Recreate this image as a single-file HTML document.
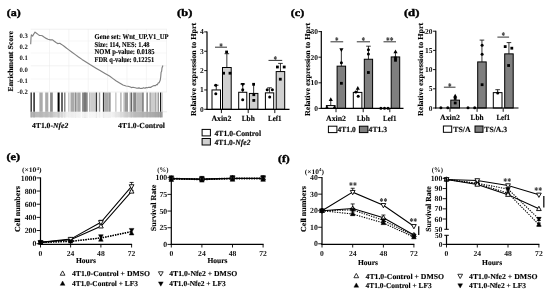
<!DOCTYPE html>
<html><head><meta charset="utf-8"><title>Figure</title>
<style>html,body{margin:0;padding:0;background:#fff;overflow:hidden}svg{display:block}text{font-family:"Liberation Serif",serif;font-weight:bold;stroke:#000;stroke-width:0.12px;text-rendering:geometricPrecision}</style></head><body>
<svg width="550" height="296" viewBox="0 0 550 296">
<rect width="550" height="296" fill="#fff"/>
<text x="6.80" y="15.60" font-size="10" text-anchor="start" fill="#000" textLength="13.90" lengthAdjust="spacingAndGlyphs" style="stroke-width:0.4px">(a)</text>
<text x="177.10" y="15.60" font-size="10" text-anchor="start" fill="#000" textLength="15.20" lengthAdjust="spacingAndGlyphs" style="stroke-width:0.4px">(b)</text>
<text x="290.80" y="15.60" font-size="10" text-anchor="start" fill="#000" textLength="13.40" lengthAdjust="spacingAndGlyphs" style="stroke-width:0.4px">(c)</text>
<text x="403.90" y="15.60" font-size="10" text-anchor="start" fill="#000" textLength="15.50" lengthAdjust="spacingAndGlyphs" style="stroke-width:0.4px">(d)</text>
<text x="6.50" y="159.50" font-size="10" text-anchor="start" fill="#000" textLength="13.70" lengthAdjust="spacingAndGlyphs" style="stroke-width:0.4px">(e)</text>
<text x="278.00" y="161.50" font-size="10" text-anchor="start" fill="#000" textLength="11.80" lengthAdjust="spacingAndGlyphs" style="stroke-width:0.4px">(f)</text>
<g id="a">
<line x1="49.50" y1="29.20" x2="49.50" y2="92.00" stroke="#ececec" stroke-width="0.6" />
<line x1="68.90" y1="29.20" x2="68.90" y2="92.00" stroke="#ececec" stroke-width="0.6" />
<line x1="88.20" y1="29.20" x2="88.20" y2="92.00" stroke="#ececec" stroke-width="0.6" />
<line x1="107.60" y1="29.20" x2="107.60" y2="92.00" stroke="#ececec" stroke-width="0.6" />
<line x1="127.00" y1="29.20" x2="127.00" y2="92.00" stroke="#ececec" stroke-width="0.6" />
<line x1="146.40" y1="29.20" x2="146.40" y2="92.00" stroke="#ececec" stroke-width="0.6" />
<line x1="166.50" y1="29.20" x2="166.50" y2="92.00" stroke="#ececec" stroke-width="0.6" />
<line x1="30.80" y1="29.20" x2="167.00" y2="29.20" stroke="#e8e8e8" stroke-width="0.6" />
<line x1="30.80" y1="41.00" x2="167.00" y2="41.00" stroke="#f2f2f2" stroke-width="0.6" />
<line x1="30.80" y1="53.00" x2="167.00" y2="53.00" stroke="#f2f2f2" stroke-width="0.6" />
<line x1="30.80" y1="65.80" x2="167.00" y2="65.80" stroke="#e8e8e8" stroke-width="0.6" />
<line x1="30.80" y1="79.00" x2="167.00" y2="79.00" stroke="#f2f2f2" stroke-width="0.6" />
<line x1="30.80" y1="92.00" x2="167.00" y2="92.00" stroke="#e8e8e8" stroke-width="0.6" />
<line x1="162.70" y1="111.80" x2="167.00" y2="111.80" stroke="#ddd" stroke-width="0.6" />
<polyline fill="none" stroke="#808080" stroke-width="1.15" stroke-linejoin="round" points="30.7,44.2 31.0,38 31.4,34.8 32.0,35.4 32.7,36.1 33.5,34.5 35,32.1 36.5,33.2 38,34.4 39.5,35.5 41,35.5 42.2,35.7 44,37 46.2,38.4 48,39.2 50.3,39.9 52.6,39.9 54,41 56,42.5 57.7,43.6 59.8,43.3 61.5,44.4 63.8,46 66,47.7 68.5,49.6 72,52.2 75.3,54.6 78.5,57 82,59.4 86,62 90,64.6 96,68.2 100,70.5 105,73.4 109.5,76 113,78.6 116.3,81 120,83.2 123,85 126,86 128,86.2 129.8,86.8 131.5,87.6 133,87.3 135.2,87.8 137,88.3 139,87.9 140.5,88.5 142,88.4 143.5,87.7 145,88.3 146.2,87.5 147.4,87.8 149,87.2 150.5,87.4 152,86.5 154.1,85.5 155.5,85.6 156.5,84.6 157.3,84.8 158.2,83 159.2,82.6 160.2,80.3 160.7,77 161.1,72.2 161.6,71.5 162,68 162.9,65.5"/>
<text x="27.80" y="37.70" font-size="6.7" text-anchor="end" fill="#222" style="stroke:none">0.3</text>
<text x="27.80" y="48.90" font-size="6.7" text-anchor="end" fill="#222" style="stroke:none">0.2</text>
<text x="27.80" y="60.30" font-size="6.7" text-anchor="end" fill="#222" style="stroke:none">0.1</text>
<text x="27.80" y="71.50" font-size="6.7" text-anchor="end" fill="#222" style="stroke:none">0.0</text>
<text x="27.80" y="82.90" font-size="6.7" text-anchor="end" fill="#222" style="stroke:none">-0.1</text>
<text x="27.80" y="94.30" font-size="6.7" text-anchor="end" fill="#222" style="stroke:none">-0.2</text>
<text x="12.60" y="61.30" font-size="7.6" text-anchor="middle" fill="#000" textLength="60.50" lengthAdjust="spacingAndGlyphs" transform="rotate(-90 12.60 61.30)" >Enrichment Score</text>
<text x="94.60" y="39.00" font-size="7.4" text-anchor="start" fill="#000" textLength="74.00" lengthAdjust="spacingAndGlyphs" >Gene set: Wnt_UP.V1_UP</text>
<text x="94.60" y="46.50" font-size="7.4" text-anchor="start" fill="#000" textLength="55.00" lengthAdjust="spacingAndGlyphs" >Size: 114, NES: 1.48</text>
<text x="94.60" y="54.00" font-size="7.4" text-anchor="start" fill="#000" textLength="60.00" lengthAdjust="spacingAndGlyphs" >NOM p-value: 0.0185</text>
<text x="94.60" y="61.50" font-size="7.4" text-anchor="start" fill="#000" textLength="59.50" lengthAdjust="spacingAndGlyphs" >FDR q-value: 0.12251</text>
<rect x="30.50" y="92.50" width="1.40" height="19.30" fill="#333"/>
<rect x="30.50" y="111.8" width="1.40" height="5.6" fill="#333" opacity="0.35"/>
<rect x="33.30" y="92.50" width="1.60" height="19.30" fill="#333"/>
<rect x="33.30" y="111.8" width="1.60" height="5.6" fill="#333" opacity="0.35"/>
<rect x="39.40" y="92.50" width="3.30" height="19.30" fill="#aaa"/>
<rect x="39.40" y="111.8" width="3.30" height="5.6" fill="#aaa" opacity="0.35"/>
<rect x="45.20" y="92.50" width="3.10" height="19.30" fill="#aaa"/>
<rect x="45.20" y="111.8" width="3.10" height="5.6" fill="#aaa" opacity="0.35"/>
<rect x="50.10" y="92.50" width="2.70" height="19.30" fill="#888"/>
<rect x="50.10" y="111.8" width="2.70" height="5.6" fill="#888" opacity="0.35"/>
<rect x="57.60" y="92.50" width="2.00" height="19.30" fill="#000"/>
<rect x="57.60" y="111.8" width="2.00" height="5.6" fill="#000" opacity="0.35"/>
<rect x="61.00" y="92.50" width="2.00" height="19.30" fill="#666"/>
<rect x="61.00" y="111.8" width="2.00" height="5.6" fill="#666" opacity="0.35"/>
<rect x="64.00" y="92.50" width="1.50" height="19.30" fill="#888"/>
<rect x="64.00" y="111.8" width="1.50" height="5.6" fill="#888" opacity="0.35"/>
<rect x="68.00" y="92.50" width="1.60" height="19.30" fill="#ccc"/>
<rect x="68.00" y="111.8" width="1.60" height="5.6" fill="#ccc" opacity="0.35"/>
<rect x="69.60" y="92.50" width="1.00" height="19.30" fill="#e4e4e4"/>
<rect x="69.60" y="111.8" width="1.00" height="5.6" fill="#e4e4e4" opacity="0.35"/>
<rect x="70.60" y="92.50" width="3.50" height="19.30" fill="#aaa"/>
<rect x="70.60" y="111.8" width="3.50" height="5.6" fill="#aaa" opacity="0.35"/>
<rect x="74.10" y="92.50" width="0.70" height="19.30" fill="#ddd"/>
<rect x="74.10" y="111.8" width="0.70" height="5.6" fill="#ddd" opacity="0.35"/>
<rect x="74.80" y="92.50" width="1.00" height="19.30" fill="#666"/>
<rect x="74.80" y="111.8" width="1.00" height="5.6" fill="#666" opacity="0.35"/>
<rect x="75.80" y="92.50" width="2.20" height="19.30" fill="#bbb"/>
<rect x="75.80" y="111.8" width="2.20" height="5.6" fill="#bbb" opacity="0.35"/>
<rect x="78.00" y="92.50" width="2.60" height="19.30" fill="#aaa"/>
<rect x="78.00" y="111.8" width="2.60" height="5.6" fill="#aaa" opacity="0.35"/>
<rect x="82.10" y="92.50" width="5.60" height="19.30" fill="#888"/>
<rect x="82.10" y="111.8" width="5.60" height="5.6" fill="#888" opacity="0.35"/>
<rect x="84.50" y="92.50" width="1.00" height="19.30" fill="#666"/>
<rect x="84.50" y="111.8" width="1.00" height="5.6" fill="#666" opacity="0.35"/>
<rect x="89.20" y="92.50" width="1.00" height="19.30" fill="#aaa"/>
<rect x="89.20" y="111.8" width="1.00" height="5.6" fill="#aaa" opacity="0.35"/>
<rect x="90.20" y="92.50" width="5.60" height="19.30" fill="#ccc"/>
<rect x="90.20" y="111.8" width="5.60" height="5.6" fill="#ccc" opacity="0.35"/>
<rect x="95.80" y="92.50" width="1.30" height="19.30" fill="#333"/>
<rect x="95.80" y="111.8" width="1.30" height="5.6" fill="#333" opacity="0.35"/>
<rect x="98.80" y="92.50" width="1.40" height="19.30" fill="#999"/>
<rect x="98.80" y="111.8" width="1.40" height="5.6" fill="#999" opacity="0.35"/>
<rect x="102.90" y="92.50" width="1.30" height="19.30" fill="#333"/>
<rect x="102.90" y="111.8" width="1.30" height="5.6" fill="#333" opacity="0.35"/>
<rect x="104.20" y="92.50" width="4.30" height="19.30" fill="#aaa"/>
<rect x="104.20" y="111.8" width="4.30" height="5.6" fill="#aaa" opacity="0.35"/>
<rect x="108.50" y="92.50" width="2.20" height="19.30" fill="#999"/>
<rect x="108.50" y="111.8" width="2.20" height="5.6" fill="#999" opacity="0.35"/>
<rect x="115.00" y="92.50" width="1.60" height="19.30" fill="#ccc"/>
<rect x="115.00" y="111.8" width="1.60" height="5.6" fill="#ccc" opacity="0.35"/>
<rect x="120.10" y="92.50" width="1.60" height="19.30" fill="#bbb"/>
<rect x="120.10" y="111.8" width="1.60" height="5.6" fill="#bbb" opacity="0.35"/>
<rect x="123.20" y="92.50" width="1.30" height="19.30" fill="#ccc"/>
<rect x="123.20" y="111.8" width="1.30" height="5.6" fill="#ccc" opacity="0.35"/>
<rect x="124.50" y="92.50" width="3.50" height="19.30" fill="#999"/>
<rect x="124.50" y="111.8" width="3.50" height="5.6" fill="#999" opacity="0.35"/>
<rect x="129.60" y="92.50" width="1.40" height="19.30" fill="#aaa"/>
<rect x="129.60" y="111.8" width="1.40" height="5.6" fill="#aaa" opacity="0.35"/>
<rect x="131.00" y="92.50" width="1.00" height="19.30" fill="#666"/>
<rect x="131.00" y="111.8" width="1.00" height="5.6" fill="#666" opacity="0.35"/>
<rect x="132.00" y="92.50" width="1.20" height="19.30" fill="#ddd"/>
<rect x="132.00" y="111.8" width="1.20" height="5.6" fill="#ddd" opacity="0.35"/>
<rect x="133.20" y="92.50" width="3.00" height="19.30" fill="#888"/>
<rect x="133.20" y="111.8" width="3.00" height="5.6" fill="#888" opacity="0.35"/>
<rect x="136.20" y="92.50" width="5.60" height="19.30" fill="#bbb"/>
<rect x="136.20" y="111.8" width="5.60" height="5.6" fill="#bbb" opacity="0.35"/>
<rect x="141.80" y="92.50" width="2.00" height="19.30" fill="#888"/>
<rect x="141.80" y="111.8" width="2.00" height="5.6" fill="#888" opacity="0.35"/>
<rect x="146.40" y="92.50" width="1.50" height="19.30" fill="#888"/>
<rect x="146.40" y="111.8" width="1.50" height="5.6" fill="#888" opacity="0.35"/>
<rect x="149.40" y="92.50" width="1.60" height="19.30" fill="#aaa"/>
<rect x="149.40" y="111.8" width="1.60" height="5.6" fill="#aaa" opacity="0.35"/>
<rect x="151.00" y="92.50" width="4.00" height="19.30" fill="#ccc"/>
<rect x="151.00" y="111.8" width="4.00" height="5.6" fill="#ccc" opacity="0.35"/>
<rect x="155.00" y="92.50" width="1.50" height="19.30" fill="#aaa"/>
<rect x="155.00" y="111.8" width="1.50" height="5.6" fill="#aaa" opacity="0.35"/>
<rect x="157.50" y="92.50" width="1.50" height="19.30" fill="#999"/>
<rect x="157.50" y="111.8" width="1.50" height="5.6" fill="#999" opacity="0.35"/>
<rect x="160.00" y="92.50" width="1.20" height="19.30" fill="#1a1a1a"/>
<rect x="160.00" y="111.8" width="1.20" height="5.6" fill="#1a1a1a" opacity="0.35"/>
<rect x="161.20" y="92.50" width="1.60" height="19.30" fill="#ccc"/>
<rect x="161.20" y="111.8" width="1.60" height="5.6" fill="#ccc" opacity="0.35"/>
<defs><linearGradient id="gb" x1="0" x2="1" y1="0" y2="0"><stop offset="0" stop-color="#a4a4a4"/><stop offset="0.15" stop-color="#b4b4b4"/><stop offset="0.28" stop-color="#ececec"/><stop offset="0.4" stop-color="#fafafa"/><stop offset="0.6" stop-color="#f4f4f4"/><stop offset="0.68" stop-color="#d8d8d8"/><stop offset="0.8" stop-color="#b0b0b0"/><stop offset="1" stop-color="#8c8c8c"/></linearGradient></defs>
<rect x="30.6" y="111.8" width="132" height="5.6" fill="url(#gb)" opacity="0.8"/>
<text x="32" y="128.0" font-size="7.7" textLength="36.2" lengthAdjust="spacingAndGlyphs">4T1.0-<tspan font-style="italic">Nfe2</tspan></text>
<text x="118.00" y="128.00" font-size="7.7" text-anchor="start" fill="#000" textLength="47.00" lengthAdjust="spacingAndGlyphs" >4T1.0-Control</text>
</g>
<g id="b">
<text x="196.00" y="69.40" font-size="7.6" text-anchor="middle" fill="#000" textLength="93.00" lengthAdjust="spacingAndGlyphs" transform="rotate(-90 196.00 69.40)" >Relative expression to Hprt</text>
<line x1="216.25" y1="89.95" x2="216.25" y2="85.20" stroke="#000" stroke-width="0.8" />
<line x1="213.95" y1="85.20" x2="218.55" y2="85.20" stroke="#000" stroke-width="0.8" />
<rect x="212.00" y="89.95" width="8.50" height="19.35" fill="#fff" stroke="#000" stroke-width="1.0"/>
<circle cx="215.80" cy="85.20" r="1.5" fill="#000"/>
<circle cx="215.80" cy="93.70" r="1.5" fill="#000"/>
<line x1="226.85" y1="67.50" x2="226.85" y2="53.70" stroke="#000" stroke-width="0.8" />
<line x1="224.55" y1="53.70" x2="229.15" y2="53.70" stroke="#000" stroke-width="0.8" />
<rect x="222.50" y="67.50" width="8.70" height="41.80" fill="#d0d0d0" stroke="#000" stroke-width="1.0"/>
<rect x="225.20" y="50.60" width="2.8" height="2.8" fill="#000"/>
<rect x="222.20" y="71.80" width="2.8" height="2.8" fill="#000"/>
<rect x="228.60" y="71.80" width="2.8" height="2.8" fill="#000"/>
<line x1="242.75" y1="92.27" x2="242.75" y2="84.20" stroke="#000" stroke-width="0.8" />
<line x1="240.45" y1="84.20" x2="245.05" y2="84.20" stroke="#000" stroke-width="0.8" />
<rect x="238.70" y="92.27" width="8.10" height="17.03" fill="#fff" stroke="#000" stroke-width="1.0"/>
<polygon points="242.70,86.86 240.61,83.09 244.79,83.09" fill="#000"/>
<circle cx="242.70" cy="89.70" r="1.5" fill="#000"/>
<circle cx="242.70" cy="99.80" r="1.5" fill="#000"/>
<line x1="253.65" y1="93.43" x2="253.65" y2="84.20" stroke="#000" stroke-width="0.8" />
<rect x="249.40" y="93.43" width="8.50" height="15.87" fill="#d0d0d0" stroke="#000" stroke-width="1.0"/>
<rect x="252.20" y="82.90" width="2.8" height="2.8" fill="#000"/>
<rect x="252.40" y="93.30" width="2.8" height="2.8" fill="#000"/>
<rect x="252.40" y="99.00" width="2.8" height="2.8" fill="#000"/>
<line x1="269.55" y1="92.85" x2="269.55" y2="87.80" stroke="#000" stroke-width="0.8" />
<line x1="267.25" y1="87.80" x2="271.85" y2="87.80" stroke="#000" stroke-width="0.8" />
<rect x="265.40" y="92.85" width="8.30" height="16.45" fill="#fff" stroke="#000" stroke-width="1.0"/>
<circle cx="267.20" cy="89.70" r="1.5" fill="#000"/>
<circle cx="272.40" cy="89.70" r="1.5" fill="#000"/>
<circle cx="269.70" cy="97.00" r="1.5" fill="#000"/>
<line x1="280.45" y1="71.57" x2="280.45" y2="63.40" stroke="#000" stroke-width="0.8" />
<line x1="278.15" y1="63.40" x2="282.75" y2="63.40" stroke="#000" stroke-width="0.8" />
<rect x="276.20" y="71.57" width="8.50" height="37.73" fill="#d0d0d0" stroke="#000" stroke-width="1.0"/>
<rect x="276.00" y="65.60" width="2.8" height="2.8" fill="#000"/>
<rect x="282.80" y="65.60" width="2.8" height="2.8" fill="#000"/>
<rect x="278.90" y="77.80" width="2.8" height="2.8" fill="#000"/>
<line x1="207.00" y1="31.40" x2="207.00" y2="109.90" stroke="#000" stroke-width="1.2" />
<line x1="206.40" y1="109.30" x2="289.50" y2="109.30" stroke="#000" stroke-width="1.2" />
<line x1="204.20" y1="109.30" x2="207.00" y2="109.30" stroke="#000" stroke-width="0.9" />
<text x="203.70" y="111.80" font-size="7.5" text-anchor="end" fill="#111" style="stroke:none">0</text>
<line x1="204.20" y1="89.95" x2="207.00" y2="89.95" stroke="#000" stroke-width="0.9" />
<text x="203.70" y="92.45" font-size="7.5" text-anchor="end" fill="#111" style="stroke:none">1</text>
<line x1="204.20" y1="70.60" x2="207.00" y2="70.60" stroke="#000" stroke-width="0.9" />
<text x="203.70" y="73.10" font-size="7.5" text-anchor="end" fill="#111" style="stroke:none">2</text>
<line x1="204.20" y1="51.25" x2="207.00" y2="51.25" stroke="#000" stroke-width="0.9" />
<text x="203.70" y="53.75" font-size="7.5" text-anchor="end" fill="#111" style="stroke:none">3</text>
<line x1="204.20" y1="31.90" x2="207.00" y2="31.90" stroke="#000" stroke-width="0.9" />
<text x="203.70" y="34.40" font-size="7.5" text-anchor="end" fill="#111" style="stroke:none">4</text>
<line x1="221.40" y1="109.30" x2="221.40" y2="113.10" stroke="#000" stroke-width="0.9" />
<text x="221.40" y="121.20" font-size="7.8" text-anchor="middle" fill="#000" textLength="20.00" lengthAdjust="spacingAndGlyphs" >Axin2</text>
<line x1="248.20" y1="109.30" x2="248.20" y2="113.10" stroke="#000" stroke-width="0.9" />
<text x="248.20" y="121.20" font-size="7.8" text-anchor="middle" fill="#000" textLength="13.10" lengthAdjust="spacingAndGlyphs" >Lbh</text>
<line x1="274.80" y1="109.30" x2="274.80" y2="113.10" stroke="#000" stroke-width="0.9" />
<text x="274.80" y="121.20" font-size="7.8" text-anchor="middle" fill="#000" textLength="13.60" lengthAdjust="spacingAndGlyphs" >Lef1</text>
<line x1="215.00" y1="47.20" x2="227.00" y2="47.20" stroke="#000" stroke-width="0.8" />
<text x="221.00" y="49.50" font-size="10.5" text-anchor="middle" fill="#222" textLength="3.60" lengthAdjust="spacingAndGlyphs" style="stroke:none">*</text>
<line x1="268.50" y1="60.40" x2="282.20" y2="60.40" stroke="#000" stroke-width="0.8" />
<text x="275.35" y="62.70" font-size="10.5" text-anchor="middle" fill="#222" textLength="3.60" lengthAdjust="spacingAndGlyphs" style="stroke:none">*</text>
<rect x="202.10" y="129.40" width="8.30" height="6.50" fill="#fff" stroke="#000" stroke-width="1.0"/>
<rect x="202.10" y="138.50" width="8.30" height="6.50" fill="#d0d0d0" stroke="#000" stroke-width="1.0"/>
</g>
<text x="214.50" y="135.60" font-size="7.8" text-anchor="start" fill="#000" textLength="46.60" lengthAdjust="spacingAndGlyphs" >4T1.0-Control</text>
<text x="214.5" y="145.1" font-size="7.8" textLength="36" lengthAdjust="spacingAndGlyphs">4T1.0-<tspan font-style="italic">Nfe2</tspan></text>
<g id="c">
<text x="309.60" y="69.40" font-size="7.6" text-anchor="middle" fill="#000" textLength="93.00" lengthAdjust="spacingAndGlyphs" transform="rotate(-90 309.60 69.40)" >Relative expression to Hprt</text>
<line x1="330.75" y1="105.58" x2="330.75" y2="99.60" stroke="#000" stroke-width="0.8" />
<rect x="326.40" y="105.58" width="8.70" height="2.82" fill="#fff" stroke="#000" stroke-width="1.0"/>
<polygon points="330.80,97.34 328.71,101.11 332.89,101.11" fill="#000"/>
<polygon points="327.00,105.34 324.91,109.11 329.09,109.11" fill="#000"/>
<polygon points="334.40,105.34 332.31,109.11 336.49,109.11" fill="#000"/>
<line x1="341.35" y1="66.16" x2="341.35" y2="50.00" stroke="#000" stroke-width="0.8" />
<rect x="337.10" y="66.16" width="8.50" height="42.24" fill="#7f7f7f" stroke="#000" stroke-width="1.0"/>
<polygon points="341.40,52.06 339.31,48.29 343.49,48.29" fill="#000"/>
<circle cx="341.40" cy="62.80" r="1.5" fill="#000"/>
<rect x="340.00" y="81.90" width="2.8" height="2.8" fill="#000"/>
<line x1="357.60" y1="92.40" x2="357.60" y2="88.30" stroke="#000" stroke-width="0.8" />
<rect x="353.30" y="92.40" width="8.60" height="16.00" fill="#fff" stroke="#000" stroke-width="1.0"/>
<polygon points="357.80,86.04 355.71,89.81 359.89,89.81" fill="#000"/>
<circle cx="355.80" cy="91.90" r="1.5" fill="#000"/>
<circle cx="358.20" cy="96.30" r="1.5" fill="#000"/>
<line x1="368.45" y1="59.25" x2="368.45" y2="46.20" stroke="#000" stroke-width="0.8" />
<line x1="366.15" y1="46.20" x2="370.75" y2="46.20" stroke="#000" stroke-width="0.8" />
<rect x="364.30" y="59.25" width="8.30" height="49.15" fill="#7f7f7f" stroke="#000" stroke-width="1.0"/>
<circle cx="368.40" cy="49.70" r="1.5" fill="#000"/>
<circle cx="368.40" cy="54.00" r="1.5" fill="#000"/>
<rect x="367.00" y="71.10" width="2.8" height="2.8" fill="#000"/>
<circle cx="380.90" cy="108.20" r="1.5" fill="#000"/>
<circle cx="384.50" cy="108.20" r="1.5" fill="#000"/>
<circle cx="388.00" cy="108.20" r="1.5" fill="#000"/>
<line x1="395.45" y1="56.94" x2="395.45" y2="51.80" stroke="#000" stroke-width="0.8" />
<rect x="391.20" y="56.94" width="8.50" height="51.46" fill="#7f7f7f" stroke="#000" stroke-width="1.0"/>
<polygon points="395.50,49.54 393.41,53.31 397.59,53.31" fill="#000"/>
<rect x="394.10" y="56.60" width="2.8" height="2.8" fill="#000"/>
<rect x="394.10" y="58.90" width="2.8" height="2.8" fill="#000"/>
<line x1="321.30" y1="31.10" x2="321.30" y2="109.00" stroke="#000" stroke-width="1.2" />
<line x1="320.70" y1="108.40" x2="403.50" y2="108.40" stroke="#000" stroke-width="1.2" />
<line x1="318.50" y1="108.40" x2="321.30" y2="108.40" stroke="#000" stroke-width="0.9" />
<text x="318.00" y="110.90" font-size="7.5" text-anchor="end" fill="#111" style="stroke:none">0</text>
<line x1="318.50" y1="82.80" x2="321.30" y2="82.80" stroke="#000" stroke-width="0.9" />
<text x="318.00" y="85.30" font-size="7.5" text-anchor="end" fill="#111" style="stroke:none">10</text>
<line x1="318.50" y1="57.20" x2="321.30" y2="57.20" stroke="#000" stroke-width="0.9" />
<text x="318.00" y="59.70" font-size="7.5" text-anchor="end" fill="#111" style="stroke:none">20</text>
<line x1="318.50" y1="31.60" x2="321.30" y2="31.60" stroke="#000" stroke-width="0.9" />
<text x="318.00" y="34.10" font-size="7.5" text-anchor="end" fill="#111" style="stroke:none">30</text>
<line x1="336.00" y1="108.40" x2="336.00" y2="112.20" stroke="#000" stroke-width="0.9" />
<text x="336.00" y="120.70" font-size="7.8" text-anchor="middle" fill="#000" textLength="20.00" lengthAdjust="spacingAndGlyphs" >Axin2</text>
<line x1="363.20" y1="108.40" x2="363.20" y2="112.20" stroke="#000" stroke-width="0.9" />
<text x="363.20" y="120.70" font-size="7.8" text-anchor="middle" fill="#000" textLength="13.10" lengthAdjust="spacingAndGlyphs" >Lbh</text>
<line x1="389.80" y1="108.40" x2="389.80" y2="112.20" stroke="#000" stroke-width="0.9" />
<text x="389.80" y="120.70" font-size="7.8" text-anchor="middle" fill="#000" textLength="13.60" lengthAdjust="spacingAndGlyphs" >Lef1</text>
<line x1="330.50" y1="41.80" x2="343.20" y2="41.80" stroke="#000" stroke-width="0.8" />
<text x="336.85" y="44.10" font-size="10.5" text-anchor="middle" fill="#222" textLength="3.60" lengthAdjust="spacingAndGlyphs" style="stroke:none">*</text>
<line x1="356.80" y1="41.80" x2="370.00" y2="41.80" stroke="#000" stroke-width="0.8" />
<text x="363.40" y="44.10" font-size="10.5" text-anchor="middle" fill="#222" textLength="3.60" lengthAdjust="spacingAndGlyphs" style="stroke:none">*</text>
<line x1="383.50" y1="41.80" x2="396.00" y2="41.80" stroke="#000" stroke-width="0.8" />
<text x="389.75" y="44.10" font-size="10.5" text-anchor="middle" fill="#222" textLength="7.60" lengthAdjust="spacingAndGlyphs" style="stroke:none">**</text>
<rect x="328.40" y="126.20" width="8.50" height="6.40" fill="#fff" stroke="#000" stroke-width="1.0"/>
<rect x="359.40" y="126.20" width="8.50" height="6.40" fill="#7f7f7f" stroke="#000" stroke-width="1.0"/>
</g>
<text x="337.60" y="132.20" font-size="7.8" text-anchor="start" fill="#000" textLength="18.20" lengthAdjust="spacingAndGlyphs" >4T1.0</text>
<text x="368.60" y="132.20" font-size="7.8" text-anchor="start" fill="#000" textLength="18.40" lengthAdjust="spacingAndGlyphs" >4T1.3</text>
<g id="d">
<text x="422.60" y="69.40" font-size="7.6" text-anchor="middle" fill="#000" textLength="93.00" lengthAdjust="spacingAndGlyphs" transform="rotate(-90 422.60 69.40)" >Relative expression to Hprt</text>
<circle cx="440.90" cy="107.80" r="1.5" fill="#000"/>
<circle cx="447.80" cy="107.80" r="1.5" fill="#000"/>
<line x1="455.15" y1="100.13" x2="455.15" y2="95.90" stroke="#000" stroke-width="0.8" />
<rect x="450.80" y="100.13" width="8.70" height="7.87" fill="#7f7f7f" stroke="#000" stroke-width="1.0"/>
<polygon points="455.20,93.64 453.11,97.41 457.29,97.41" fill="#000"/>
<rect x="453.80" y="97.00" width="2.8" height="2.8" fill="#000"/>
<rect x="453.80" y="101.60" width="2.8" height="2.8" fill="#000"/>
<circle cx="468.00" cy="107.80" r="1.5" fill="#000"/>
<circle cx="474.70" cy="107.80" r="1.5" fill="#000"/>
<line x1="481.95" y1="61.92" x2="481.95" y2="40.10" stroke="#000" stroke-width="0.8" />
<line x1="479.65" y1="40.10" x2="484.25" y2="40.10" stroke="#000" stroke-width="0.8" />
<rect x="477.70" y="61.92" width="8.50" height="46.08" fill="#7f7f7f" stroke="#000" stroke-width="1.0"/>
<circle cx="482.10" cy="45.20" r="1.5" fill="#000"/>
<circle cx="482.10" cy="54.30" r="1.5" fill="#000"/>
<rect x="480.70" y="83.30" width="2.8" height="2.8" fill="#000"/>
<line x1="497.65" y1="92.64" x2="497.65" y2="89.70" stroke="#000" stroke-width="0.8" />
<line x1="495.35" y1="89.70" x2="499.95" y2="89.70" stroke="#000" stroke-width="0.8" />
<rect x="493.30" y="92.64" width="8.70" height="15.36" fill="#fff" stroke="#000" stroke-width="1.0"/>
<circle cx="497.70" cy="93.00" r="1.5" fill="#000"/>
<line x1="508.95" y1="53.86" x2="508.95" y2="42.60" stroke="#000" stroke-width="0.8" />
<line x1="506.65" y1="42.60" x2="511.25" y2="42.60" stroke="#000" stroke-width="0.8" />
<rect x="504.70" y="53.86" width="8.50" height="54.14" fill="#7f7f7f" stroke="#000" stroke-width="1.0"/>
<rect x="503.80" y="45.20" width="2.8" height="2.8" fill="#000"/>
<rect x="510.40" y="46.80" width="2.8" height="2.8" fill="#000"/>
<rect x="507.20" y="64.10" width="2.8" height="2.8" fill="#000"/>
<line x1="435.80" y1="30.70" x2="435.80" y2="108.60" stroke="#000" stroke-width="1.2" />
<line x1="435.20" y1="108.00" x2="518.50" y2="108.00" stroke="#000" stroke-width="1.2" />
<line x1="433.00" y1="108.00" x2="435.80" y2="108.00" stroke="#000" stroke-width="0.9" />
<text x="432.50" y="110.50" font-size="7.5" text-anchor="end" fill="#111" style="stroke:none">0</text>
<line x1="433.00" y1="88.80" x2="435.80" y2="88.80" stroke="#000" stroke-width="0.9" />
<text x="432.50" y="91.30" font-size="7.5" text-anchor="end" fill="#111" style="stroke:none">5</text>
<line x1="433.00" y1="69.60" x2="435.80" y2="69.60" stroke="#000" stroke-width="0.9" />
<text x="432.50" y="72.10" font-size="7.5" text-anchor="end" fill="#111" style="stroke:none">10</text>
<line x1="433.00" y1="50.40" x2="435.80" y2="50.40" stroke="#000" stroke-width="0.9" />
<text x="432.50" y="52.90" font-size="7.5" text-anchor="end" fill="#111" style="stroke:none">15</text>
<line x1="433.00" y1="31.20" x2="435.80" y2="31.20" stroke="#000" stroke-width="0.9" />
<text x="432.50" y="33.70" font-size="7.5" text-anchor="end" fill="#111" style="stroke:none">20</text>
<line x1="450.00" y1="108.00" x2="450.00" y2="111.80" stroke="#000" stroke-width="0.9" />
<text x="450.00" y="120.20" font-size="7.8" text-anchor="middle" fill="#000" textLength="20.00" lengthAdjust="spacingAndGlyphs" >Axin2</text>
<line x1="477.10" y1="108.00" x2="477.10" y2="111.80" stroke="#000" stroke-width="0.9" />
<text x="477.10" y="120.20" font-size="7.8" text-anchor="middle" fill="#000" textLength="13.10" lengthAdjust="spacingAndGlyphs" >Lbh</text>
<line x1="503.20" y1="108.00" x2="503.20" y2="111.80" stroke="#000" stroke-width="0.9" />
<text x="503.20" y="120.20" font-size="7.8" text-anchor="middle" fill="#000" textLength="13.60" lengthAdjust="spacingAndGlyphs" >Lef1</text>
<line x1="443.90" y1="87.20" x2="455.50" y2="87.20" stroke="#000" stroke-width="0.8" />
<text x="449.70" y="89.50" font-size="10.5" text-anchor="middle" fill="#222" textLength="3.60" lengthAdjust="spacingAndGlyphs" style="stroke:none">*</text>
<line x1="497.40" y1="37.10" x2="509.10" y2="37.10" stroke="#000" stroke-width="0.8" />
<text x="503.25" y="39.40" font-size="10.5" text-anchor="middle" fill="#222" textLength="3.60" lengthAdjust="spacingAndGlyphs" style="stroke:none">*</text>
<rect x="443.40" y="126.00" width="8.30" height="6.30" fill="#fff" stroke="#000" stroke-width="1.0"/>
<rect x="475.00" y="126.00" width="8.00" height="6.30" fill="#7f7f7f" stroke="#000" stroke-width="1.0"/>
</g>
<text x="453.20" y="132.20" font-size="7.8" text-anchor="start" fill="#000" textLength="17.50" lengthAdjust="spacingAndGlyphs" >TS/A</text>
<text x="484.30" y="132.20" font-size="7.8" text-anchor="start" fill="#000" textLength="22.80" lengthAdjust="spacingAndGlyphs" >TS/A.3</text>
<g id="e1">
<polyline fill="none" stroke="#000" stroke-width="1.3" stroke-dasharray="1.3 1.2" points="40.50,242.38 70.60,241.40 100.90,237.98 131.60,231.66"/>
<polyline fill="none" stroke="#000" stroke-width="1.3" stroke-dasharray="1.3 1.2" points="40.50,242.38 70.60,241.33 100.90,237.91 131.60,231.59"/>
<polyline fill="none" stroke="#000" stroke-width="1.05" points="40.50,242.38 70.60,239.75 100.90,226.26 131.60,191.39"/>
<polyline fill="none" stroke="#000" stroke-width="1.05" points="40.50,242.38 70.60,239.09 100.90,222.31 131.60,186.45"/>
<line x1="100.90" y1="220.31" x2="100.90" y2="224.31" stroke="#000" stroke-width="0.8" />
<line x1="98.90" y1="220.31" x2="102.90" y2="220.31" stroke="#000" stroke-width="0.8" />
<line x1="98.90" y1="224.31" x2="102.90" y2="224.31" stroke="#000" stroke-width="0.8" />
<line x1="131.60" y1="182.45" x2="131.60" y2="190.45" stroke="#000" stroke-width="0.8" />
<line x1="129.60" y1="182.45" x2="133.60" y2="182.45" stroke="#000" stroke-width="0.8" />
<line x1="129.60" y1="190.45" x2="133.60" y2="190.45" stroke="#000" stroke-width="0.8" />
<polygon points="40.50,239.81 38.12,244.10 42.88,244.10" fill="#fff" stroke="#000" stroke-width="0.9" stroke-linejoin="miter"/>
<polygon points="70.60,237.18 68.22,241.47 72.98,241.47" fill="#fff" stroke="#000" stroke-width="0.9" stroke-linejoin="miter"/>
<polygon points="100.90,223.69 98.52,227.98 103.28,227.98" fill="#fff" stroke="#000" stroke-width="0.9" stroke-linejoin="miter"/>
<polygon points="131.60,188.81 129.22,193.10 133.98,193.10" fill="#fff" stroke="#000" stroke-width="0.9" stroke-linejoin="miter"/>
<polygon points="40.50,239.89 38.20,244.05 42.80,244.05" fill="#000" stroke="#000" stroke-width="0.5" stroke-linejoin="miter"/>
<polygon points="70.60,238.90 68.30,243.06 72.90,243.06" fill="#000" stroke="#000" stroke-width="0.5" stroke-linejoin="miter"/>
<polygon points="100.90,237.06 98.60,241.22 103.20,241.22" fill="#000" stroke="#000" stroke-width="0.5" stroke-linejoin="miter"/>
<polygon points="131.60,230.74 129.30,234.90 133.90,234.90" fill="#000" stroke="#000" stroke-width="0.5" stroke-linejoin="miter"/>
<polygon points="40.50,244.96 38.12,240.67 42.88,240.67" fill="#fff" stroke="#000" stroke-width="0.9" stroke-linejoin="miter"/>
<polygon points="70.60,241.67 68.22,237.38 72.98,237.38" fill="#fff" stroke="#000" stroke-width="0.9" stroke-linejoin="miter"/>
<polygon points="100.90,224.89 98.52,220.60 103.28,220.60" fill="#fff" stroke="#000" stroke-width="0.9" stroke-linejoin="miter"/>
<polygon points="131.60,189.03 129.22,184.74 133.98,184.74" fill="#fff" stroke="#000" stroke-width="0.9" stroke-linejoin="miter"/>
<polygon points="40.50,244.88 38.20,240.72 42.80,240.72" fill="#000" stroke="#000" stroke-width="0.5" stroke-linejoin="miter"/>
<polygon points="70.60,243.89 68.30,239.73 72.90,239.73" fill="#000" stroke="#000" stroke-width="0.5" stroke-linejoin="miter"/>
<polygon points="100.90,238.89 98.60,234.73 103.20,234.73" fill="#000" stroke="#000" stroke-width="0.5" stroke-linejoin="miter"/>
<polygon points="131.60,232.58 129.30,228.42 133.90,228.42" fill="#000" stroke="#000" stroke-width="0.5" stroke-linejoin="miter"/>
<line x1="40.50" y1="177.40" x2="40.50" y2="245.00" stroke="#000" stroke-width="1.2" />
<line x1="39.90" y1="244.40" x2="132.10" y2="244.40" stroke="#000" stroke-width="1.2" />
<line x1="36.70" y1="243.70" x2="40.50" y2="243.70" stroke="#000" stroke-width="0.9" />
<text x="36.40" y="246.30" font-size="7.8" text-anchor="end" fill="#111" style="stroke:none">0</text>
<line x1="36.70" y1="230.54" x2="40.50" y2="230.54" stroke="#000" stroke-width="0.9" />
<text x="36.40" y="233.14" font-size="7.8" text-anchor="end" fill="#111" style="stroke:none">200</text>
<line x1="36.70" y1="217.38" x2="40.50" y2="217.38" stroke="#000" stroke-width="0.9" />
<text x="36.40" y="219.98" font-size="7.8" text-anchor="end" fill="#111" style="stroke:none">400</text>
<line x1="36.70" y1="204.22" x2="40.50" y2="204.22" stroke="#000" stroke-width="0.9" />
<text x="36.40" y="206.82" font-size="7.8" text-anchor="end" fill="#111" style="stroke:none">600</text>
<line x1="36.70" y1="191.06" x2="40.50" y2="191.06" stroke="#000" stroke-width="0.9" />
<text x="36.40" y="193.66" font-size="7.8" text-anchor="end" fill="#111" style="stroke:none">800</text>
<line x1="36.70" y1="177.90" x2="40.50" y2="177.90" stroke="#000" stroke-width="0.9" />
<text x="36.40" y="180.50" font-size="7.8" text-anchor="end" fill="#111" style="stroke:none">1000</text>
<line x1="40.50" y1="244.40" x2="40.50" y2="247.50" stroke="#000" stroke-width="0.9" />
<text x="40.50" y="255.80" font-size="7.6" text-anchor="middle" fill="#111" style="stroke:none">0</text>
<line x1="70.60" y1="244.40" x2="70.60" y2="247.50" stroke="#000" stroke-width="0.9" />
<text x="70.60" y="255.80" font-size="7.6" text-anchor="middle" fill="#111" style="stroke:none">24</text>
<line x1="100.90" y1="244.40" x2="100.90" y2="247.50" stroke="#000" stroke-width="0.9" />
<text x="100.90" y="255.80" font-size="7.6" text-anchor="middle" fill="#111" style="stroke:none">48</text>
<line x1="131.60" y1="244.40" x2="131.60" y2="247.50" stroke="#000" stroke-width="0.9" />
<text x="131.60" y="255.80" font-size="7.6" text-anchor="middle" fill="#111" style="stroke:none">72</text>
<text x="85.90" y="263.40" font-size="7.6" text-anchor="middle" fill="#000" textLength="20.00" lengthAdjust="spacingAndGlyphs" >Hours</text>
<text x="20.20" y="209.00" font-size="7.7" text-anchor="middle" fill="#000" textLength="45.80" lengthAdjust="spacingAndGlyphs" transform="rotate(-90 20.20 209.00)" >Cell numbers</text>
<text x="21.9" y="172.2" font-size="7.0" textLength="19.6" lengthAdjust="spacingAndGlyphs" style="stroke:none" fill="#111">(×10<tspan font-size="4.6" dy="-2.4">4</tspan><tspan dy="2.4">)</tspan></text>
</g>
<g id="e2">
<polyline fill="none" stroke="#000" stroke-width="1.3" stroke-dasharray="1.3 1.2" points="171.30,179.03 201.90,179.63 232.50,178.83 263.10,178.83"/>
<line x1="201.90" y1="178.03" x2="201.90" y2="181.23" stroke="#000" stroke-width="0.8" />
<line x1="199.90" y1="178.03" x2="203.90" y2="178.03" stroke="#000" stroke-width="0.8" />
<line x1="199.90" y1="181.23" x2="203.90" y2="181.23" stroke="#000" stroke-width="0.8" />
<line x1="232.50" y1="177.43" x2="232.50" y2="180.23" stroke="#000" stroke-width="0.8" />
<line x1="230.50" y1="177.43" x2="234.50" y2="177.43" stroke="#000" stroke-width="0.8" />
<line x1="230.50" y1="180.23" x2="234.50" y2="180.23" stroke="#000" stroke-width="0.8" />
<line x1="263.10" y1="177.03" x2="263.10" y2="180.63" stroke="#000" stroke-width="0.8" />
<line x1="261.10" y1="177.03" x2="265.10" y2="177.03" stroke="#000" stroke-width="0.8" />
<line x1="261.10" y1="180.63" x2="265.10" y2="180.63" stroke="#000" stroke-width="0.8" />
<polyline fill="none" stroke="#000" stroke-width="1.3" stroke-dasharray="1.3 1.2" points="171.30,178.37 201.90,178.97 232.50,178.17 263.10,178.17"/>
<polyline fill="none" stroke="#000" stroke-width="1.05" points="171.30,178.43 201.90,179.03 232.50,178.23 263.10,178.23"/>
<polyline fill="none" stroke="#000" stroke-width="1.05" points="171.30,178.77 201.90,179.37 232.50,178.57 263.10,178.57"/>
<polygon points="171.30,175.73 168.92,180.02 173.68,180.02" fill="#fff" stroke="#000" stroke-width="0.9" stroke-linejoin="miter"/>
<polygon points="201.90,176.33 199.52,180.62 204.28,180.62" fill="#fff" stroke="#000" stroke-width="0.9" stroke-linejoin="miter"/>
<polygon points="232.50,175.53 230.12,179.82 234.88,179.82" fill="#fff" stroke="#000" stroke-width="0.9" stroke-linejoin="miter"/>
<polygon points="263.10,175.53 260.72,179.82 265.48,179.82" fill="#fff" stroke="#000" stroke-width="0.9" stroke-linejoin="miter"/>
<polygon points="171.30,181.07 168.92,176.78 173.68,176.78" fill="#fff" stroke="#000" stroke-width="0.9" stroke-linejoin="miter"/>
<polygon points="201.90,181.67 199.52,177.38 204.28,177.38" fill="#fff" stroke="#000" stroke-width="0.9" stroke-linejoin="miter"/>
<polygon points="232.50,180.87 230.12,176.58 234.88,176.58" fill="#fff" stroke="#000" stroke-width="0.9" stroke-linejoin="miter"/>
<polygon points="263.10,180.87 260.72,176.58 265.48,176.58" fill="#fff" stroke="#000" stroke-width="0.9" stroke-linejoin="miter"/>
<polygon points="171.30,177.34 169.00,181.50 173.60,181.50" fill="#000" stroke="#000" stroke-width="0.5" stroke-linejoin="miter"/>
<polygon points="201.90,177.94 199.60,182.10 204.20,182.10" fill="#000" stroke="#000" stroke-width="0.5" stroke-linejoin="miter"/>
<polygon points="232.50,177.14 230.20,181.30 234.80,181.30" fill="#000" stroke="#000" stroke-width="0.5" stroke-linejoin="miter"/>
<polygon points="263.10,177.14 260.80,181.30 265.40,181.30" fill="#000" stroke="#000" stroke-width="0.5" stroke-linejoin="miter"/>
<polygon points="171.30,179.93 169.00,175.77 173.60,175.77" fill="#000" stroke="#000" stroke-width="0.5" stroke-linejoin="miter"/>
<polygon points="201.90,180.53 199.60,176.37 204.20,176.37" fill="#000" stroke="#000" stroke-width="0.5" stroke-linejoin="miter"/>
<polygon points="232.50,179.73 230.20,175.57 234.80,175.57" fill="#000" stroke="#000" stroke-width="0.5" stroke-linejoin="miter"/>
<polygon points="263.10,179.73 260.80,175.57 265.40,175.57" fill="#000" stroke="#000" stroke-width="0.5" stroke-linejoin="miter"/>
<line x1="171.30" y1="177.20" x2="171.30" y2="245.00" stroke="#000" stroke-width="1.2" />
<line x1="170.70" y1="244.40" x2="263.60" y2="244.40" stroke="#000" stroke-width="1.2" />
<line x1="167.50" y1="244.40" x2="171.30" y2="244.40" stroke="#000" stroke-width="0.9" />
<text x="167.20" y="247.00" font-size="7.8" text-anchor="end" fill="#111" style="stroke:none">0</text>
<line x1="167.50" y1="227.72" x2="171.30" y2="227.72" stroke="#000" stroke-width="0.9" />
<text x="167.20" y="230.32" font-size="7.8" text-anchor="end" fill="#111" style="stroke:none">25</text>
<line x1="167.50" y1="211.05" x2="171.30" y2="211.05" stroke="#000" stroke-width="0.9" />
<text x="167.20" y="213.65" font-size="7.8" text-anchor="end" fill="#111" style="stroke:none">50</text>
<line x1="167.50" y1="194.38" x2="171.30" y2="194.38" stroke="#000" stroke-width="0.9" />
<text x="167.20" y="196.97" font-size="7.8" text-anchor="end" fill="#111" style="stroke:none">75</text>
<line x1="167.50" y1="177.70" x2="171.30" y2="177.70" stroke="#000" stroke-width="0.9" />
<text x="167.20" y="180.30" font-size="7.8" text-anchor="end" fill="#111" style="stroke:none">100</text>
<line x1="171.30" y1="244.40" x2="171.30" y2="247.50" stroke="#000" stroke-width="0.9" />
<text x="171.30" y="255.80" font-size="7.6" text-anchor="middle" fill="#111" style="stroke:none">0</text>
<line x1="201.90" y1="244.40" x2="201.90" y2="247.50" stroke="#000" stroke-width="0.9" />
<text x="201.90" y="255.80" font-size="7.6" text-anchor="middle" fill="#111" style="stroke:none">24</text>
<line x1="232.50" y1="244.40" x2="232.50" y2="247.50" stroke="#000" stroke-width="0.9" />
<text x="232.50" y="255.80" font-size="7.6" text-anchor="middle" fill="#111" style="stroke:none">48</text>
<line x1="263.10" y1="244.40" x2="263.10" y2="247.50" stroke="#000" stroke-width="0.9" />
<text x="263.10" y="255.80" font-size="7.6" text-anchor="middle" fill="#111" style="stroke:none">72</text>
<text x="217.50" y="263.40" font-size="7.6" text-anchor="middle" fill="#000" textLength="20.00" lengthAdjust="spacingAndGlyphs" >Hours</text>
<text x="155.60" y="207.90" font-size="7.7" text-anchor="middle" fill="#000" textLength="46.50" lengthAdjust="spacingAndGlyphs" transform="rotate(-90 155.60 207.90)" >Survival Rate</text>
<text x="157.2" y="172" font-size="7.0" textLength="11.2" lengthAdjust="spacingAndGlyphs" style="stroke:none" fill="#111">(%)</text>
</g>
<polygon points="62.60,270.93 60.22,275.22 64.98,275.22" fill="#fff" stroke="#000" stroke-width="0.8" stroke-linejoin="miter"/>
<text x="72.00" y="276.00" font-size="7.6" text-anchor="start" fill="#000" textLength="78.00" lengthAdjust="spacingAndGlyphs" >4T1.0-Control + DMSO</text>
<polygon points="62.60,281.03 60.22,285.32 64.98,285.32" fill="#000" stroke="#000" stroke-width="0.4" stroke-linejoin="miter"/>
<text x="72.00" y="286.10" font-size="7.6" text-anchor="start" fill="#000" textLength="66.00" lengthAdjust="spacingAndGlyphs" >4T1.0-Control + LF3</text>
<polygon points="160.80,276.07 158.42,271.78 163.18,271.78" fill="#fff" stroke="#000" stroke-width="0.8" stroke-linejoin="miter"/>
<text x="169.20" y="276.00" font-size="7.6" text-anchor="start" fill="#000" textLength="68.00" lengthAdjust="spacingAndGlyphs" >4T1.0-Nfe2 + DMSO</text>
<polygon points="160.80,286.17 158.42,281.88 163.18,281.88" fill="#000" stroke="#000" stroke-width="0.4" stroke-linejoin="miter"/>
<text x="169.20" y="286.10" font-size="7.6" text-anchor="start" fill="#000" textLength="56.50" lengthAdjust="spacingAndGlyphs" >4T1.0-Nfe2 + LF3</text>
<g id="f1">
<polyline fill="none" stroke="#000" stroke-width="1.1" stroke-dasharray="1.3 1.2" points="322.00,210.70 352.70,214.01 383.40,222.95 413.90,237.18"/>
<line x1="352.70" y1="213.01" x2="352.70" y2="215.01" stroke="#000" stroke-width="0.8" />
<line x1="350.70" y1="213.01" x2="354.70" y2="213.01" stroke="#000" stroke-width="0.8" />
<line x1="350.70" y1="215.01" x2="354.70" y2="215.01" stroke="#000" stroke-width="0.8" />
<line x1="383.40" y1="221.95" x2="383.40" y2="223.95" stroke="#000" stroke-width="0.8" />
<line x1="381.40" y1="221.95" x2="385.40" y2="221.95" stroke="#000" stroke-width="0.8" />
<line x1="381.40" y1="223.95" x2="385.40" y2="223.95" stroke="#000" stroke-width="0.8" />
<line x1="413.90" y1="236.38" x2="413.90" y2="237.98" stroke="#000" stroke-width="0.8" />
<line x1="411.90" y1="236.38" x2="415.90" y2="236.38" stroke="#000" stroke-width="0.8" />
<line x1="411.90" y1="237.98" x2="415.90" y2="237.98" stroke="#000" stroke-width="0.8" />
<polyline fill="none" stroke="#000" stroke-width="1.1" stroke-dasharray="1.3 1.2" points="322.00,210.70 352.70,209.87 383.40,220.30 413.90,236.02"/>
<line x1="352.70" y1="208.67" x2="352.70" y2="211.07" stroke="#000" stroke-width="0.8" />
<line x1="350.70" y1="208.67" x2="354.70" y2="208.67" stroke="#000" stroke-width="0.8" />
<line x1="350.70" y1="211.07" x2="354.70" y2="211.07" stroke="#000" stroke-width="0.8" />
<line x1="383.40" y1="219.30" x2="383.40" y2="221.30" stroke="#000" stroke-width="0.8" />
<line x1="381.40" y1="219.30" x2="385.40" y2="219.30" stroke="#000" stroke-width="0.8" />
<line x1="381.40" y1="221.30" x2="385.40" y2="221.30" stroke="#000" stroke-width="0.8" />
<line x1="413.90" y1="235.22" x2="413.90" y2="236.82" stroke="#000" stroke-width="0.8" />
<line x1="411.90" y1="235.22" x2="415.90" y2="235.22" stroke="#000" stroke-width="0.8" />
<line x1="411.90" y1="236.82" x2="415.90" y2="236.82" stroke="#000" stroke-width="0.8" />
<polyline fill="none" stroke="#000" stroke-width="1.05" points="322.00,210.70 352.70,208.55 383.40,217.82 413.90,235.03"/>
<line x1="352.70" y1="203.95" x2="352.70" y2="208.55" stroke="#000" stroke-width="0.8" />
<line x1="350.70" y1="203.95" x2="354.70" y2="203.95" stroke="#000" stroke-width="0.8" />
<line x1="383.40" y1="215.02" x2="383.40" y2="217.82" stroke="#000" stroke-width="0.8" />
<line x1="381.40" y1="215.02" x2="385.40" y2="215.02" stroke="#000" stroke-width="0.8" />
<line x1="413.90" y1="234.03" x2="413.90" y2="235.03" stroke="#000" stroke-width="0.8" />
<line x1="411.90" y1="234.03" x2="415.90" y2="234.03" stroke="#000" stroke-width="0.8" />
<polyline fill="none" stroke="#000" stroke-width="1.05" points="322.00,210.70 352.70,192.16 383.40,205.24 413.90,226.26"/>
<line x1="352.70" y1="188.26" x2="352.70" y2="192.16" stroke="#000" stroke-width="0.8" />
<line x1="350.70" y1="188.26" x2="354.70" y2="188.26" stroke="#000" stroke-width="0.8" />
<line x1="383.40" y1="204.24" x2="383.40" y2="205.24" stroke="#000" stroke-width="0.8" />
<line x1="381.40" y1="204.24" x2="385.40" y2="204.24" stroke="#000" stroke-width="0.8" />
<line x1="413.90" y1="225.46" x2="413.90" y2="226.26" stroke="#000" stroke-width="0.8" />
<line x1="411.90" y1="225.46" x2="415.90" y2="225.46" stroke="#000" stroke-width="0.8" />
<polygon points="322.00,208.13 319.62,212.42 324.38,212.42" fill="#fff" stroke="#000" stroke-width="0.9" stroke-linejoin="miter"/>
<polygon points="352.70,205.97 350.32,210.26 355.08,210.26" fill="#fff" stroke="#000" stroke-width="0.9" stroke-linejoin="miter"/>
<polygon points="383.40,215.24 381.02,219.53 385.78,219.53" fill="#fff" stroke="#000" stroke-width="0.9" stroke-linejoin="miter"/>
<polygon points="413.90,232.45 411.52,236.74 416.28,236.74" fill="#fff" stroke="#000" stroke-width="0.9" stroke-linejoin="miter"/>
<polygon points="322.00,208.20 319.70,212.36 324.30,212.36" fill="#000" stroke="#000" stroke-width="0.5" stroke-linejoin="miter"/>
<polygon points="352.70,211.51 350.40,215.67 355.00,215.67" fill="#000" stroke="#000" stroke-width="0.5" stroke-linejoin="miter"/>
<polygon points="383.40,220.45 381.10,224.61 385.70,224.61" fill="#000" stroke="#000" stroke-width="0.5" stroke-linejoin="miter"/>
<polygon points="413.90,234.68 411.60,238.84 416.20,238.84" fill="#000" stroke="#000" stroke-width="0.5" stroke-linejoin="miter"/>
<polygon points="322.00,213.27 319.62,208.98 324.38,208.98" fill="#fff" stroke="#000" stroke-width="0.9" stroke-linejoin="miter"/>
<polygon points="352.70,194.74 350.32,190.45 355.08,190.45" fill="#fff" stroke="#000" stroke-width="0.9" stroke-linejoin="miter"/>
<polygon points="383.40,207.81 381.02,203.52 385.78,203.52" fill="#fff" stroke="#000" stroke-width="0.9" stroke-linejoin="miter"/>
<polygon points="413.90,228.83 411.52,224.54 416.28,224.54" fill="#fff" stroke="#000" stroke-width="0.9" stroke-linejoin="miter"/>
<polygon points="322.00,213.20 319.70,209.04 324.30,209.04" fill="#000" stroke="#000" stroke-width="0.5" stroke-linejoin="miter"/>
<polygon points="352.70,212.37 350.40,208.21 355.00,208.21" fill="#000" stroke="#000" stroke-width="0.5" stroke-linejoin="miter"/>
<polygon points="383.40,222.80 381.10,218.64 385.70,218.64" fill="#000" stroke="#000" stroke-width="0.5" stroke-linejoin="miter"/>
<polygon points="413.90,238.52 411.60,234.36 416.20,234.36" fill="#000" stroke="#000" stroke-width="0.5" stroke-linejoin="miter"/>
<text x="352.90" y="189.40" font-size="10.5" text-anchor="middle" fill="#222" textLength="7.80" lengthAdjust="spacingAndGlyphs" style="stroke:none">**</text>
<text x="383.50" y="204.90" font-size="10.5" text-anchor="middle" fill="#222" textLength="7.80" lengthAdjust="spacingAndGlyphs" style="stroke:none">**</text>
<text x="413.30" y="225.20" font-size="10.5" text-anchor="middle" fill="#222" textLength="7.80" lengthAdjust="spacingAndGlyphs" style="stroke:none">**</text>
<line x1="418.70" y1="226.30" x2="418.70" y2="235.00" stroke="#222" stroke-width="1.4" />
<line x1="322.00" y1="177.10" x2="322.00" y2="245.00" stroke="#000" stroke-width="1.2" />
<line x1="321.40" y1="244.40" x2="414.40" y2="244.40" stroke="#000" stroke-width="1.2" />
<line x1="318.20" y1="243.80" x2="322.00" y2="243.80" stroke="#000" stroke-width="0.9" />
<text x="317.90" y="246.40" font-size="7.8" text-anchor="end" fill="#111" style="stroke:none">0</text>
<line x1="318.20" y1="227.25" x2="322.00" y2="227.25" stroke="#000" stroke-width="0.9" />
<text x="317.90" y="229.85" font-size="7.8" text-anchor="end" fill="#111" style="stroke:none">10</text>
<line x1="318.20" y1="210.70" x2="322.00" y2="210.70" stroke="#000" stroke-width="0.9" />
<text x="317.90" y="213.30" font-size="7.8" text-anchor="end" fill="#111" style="stroke:none">20</text>
<line x1="318.20" y1="194.15" x2="322.00" y2="194.15" stroke="#000" stroke-width="0.9" />
<text x="317.90" y="196.75" font-size="7.8" text-anchor="end" fill="#111" style="stroke:none">30</text>
<line x1="318.20" y1="177.60" x2="322.00" y2="177.60" stroke="#000" stroke-width="0.9" />
<text x="317.90" y="180.20" font-size="7.8" text-anchor="end" fill="#111" style="stroke:none">40</text>
<line x1="322.00" y1="244.40" x2="322.00" y2="247.50" stroke="#000" stroke-width="0.9" />
<text x="322.00" y="255.80" font-size="7.6" text-anchor="middle" fill="#111" style="stroke:none">0</text>
<line x1="352.70" y1="244.40" x2="352.70" y2="247.50" stroke="#000" stroke-width="0.9" />
<text x="352.70" y="255.80" font-size="7.6" text-anchor="middle" fill="#111" style="stroke:none">24</text>
<line x1="383.40" y1="244.40" x2="383.40" y2="247.50" stroke="#000" stroke-width="0.9" />
<text x="383.40" y="255.80" font-size="7.6" text-anchor="middle" fill="#111" style="stroke:none">48</text>
<line x1="413.90" y1="244.40" x2="413.90" y2="247.50" stroke="#000" stroke-width="0.9" />
<text x="413.90" y="255.80" font-size="7.6" text-anchor="middle" fill="#111" style="stroke:none">72</text>
<text x="368.00" y="265.30" font-size="7.6" text-anchor="middle" fill="#000" textLength="20.00" lengthAdjust="spacingAndGlyphs" >Hours</text>
<text x="306.00" y="209.00" font-size="7.7" text-anchor="middle" fill="#000" textLength="45.80" lengthAdjust="spacingAndGlyphs" transform="rotate(-90 306.00 209.00)" >Cell numbers</text>
<text x="304.7" y="173.6" font-size="7.0" textLength="19.2" lengthAdjust="spacingAndGlyphs" style="stroke:none" fill="#111">(×10<tspan font-size="4.6" dy="-2.4">4</tspan><tspan dy="2.4">)</tspan></text>
</g>
<g id="f2">
<polyline fill="none" stroke="#000" stroke-width="1.1" stroke-dasharray="1.3 1.2" points="446.50,179.41 477.30,183.68 508.00,193.12 538.90,224.58"/>
<line x1="508.00" y1="192.12" x2="508.00" y2="194.12" stroke="#000" stroke-width="0.8" />
<line x1="506.00" y1="192.12" x2="510.00" y2="192.12" stroke="#000" stroke-width="0.8" />
<line x1="506.00" y1="194.12" x2="510.00" y2="194.12" stroke="#000" stroke-width="0.8" />
<line x1="538.90" y1="223.08" x2="538.90" y2="226.08" stroke="#000" stroke-width="0.8" />
<line x1="536.90" y1="223.08" x2="540.90" y2="223.08" stroke="#000" stroke-width="0.8" />
<line x1="536.90" y1="226.08" x2="540.90" y2="226.08" stroke="#000" stroke-width="0.8" />
<polyline fill="none" stroke="#000" stroke-width="1.1" stroke-dasharray="1.3 1.2" points="446.50,179.41 477.30,183.27 508.00,189.06 538.90,219.00"/>
<line x1="508.00" y1="188.06" x2="508.00" y2="190.06" stroke="#000" stroke-width="0.8" />
<line x1="506.00" y1="188.06" x2="510.00" y2="188.06" stroke="#000" stroke-width="0.8" />
<line x1="506.00" y1="190.06" x2="510.00" y2="190.06" stroke="#000" stroke-width="0.8" />
<line x1="538.90" y1="217.50" x2="538.90" y2="220.50" stroke="#000" stroke-width="0.8" />
<line x1="536.90" y1="217.50" x2="540.90" y2="217.50" stroke="#000" stroke-width="0.8" />
<line x1="536.90" y1="220.50" x2="540.90" y2="220.50" stroke="#000" stroke-width="0.8" />
<polyline fill="none" stroke="#000" stroke-width="1.05" points="446.50,179.41 477.30,184.49 508.00,194.64 538.90,208.85"/>
<polyline fill="none" stroke="#000" stroke-width="1.05" points="446.50,179.41 477.30,180.43 508.00,185.50 538.90,194.84"/>
<polygon points="446.50,176.92 444.20,181.08 448.80,181.08" fill="#000" stroke="#000" stroke-width="0.5" stroke-linejoin="miter"/>
<polygon points="477.30,181.18 475.00,185.34 479.60,185.34" fill="#000" stroke="#000" stroke-width="0.5" stroke-linejoin="miter"/>
<polygon points="508.00,190.62 505.70,194.78 510.30,194.78" fill="#000" stroke="#000" stroke-width="0.5" stroke-linejoin="miter"/>
<polygon points="538.90,222.09 536.60,226.25 541.20,226.25" fill="#000" stroke="#000" stroke-width="0.5" stroke-linejoin="miter"/>
<polygon points="446.50,181.91 444.20,177.75 448.80,177.75" fill="#000" stroke="#000" stroke-width="0.5" stroke-linejoin="miter"/>
<polygon points="477.30,185.77 475.00,181.61 479.60,181.61" fill="#000" stroke="#000" stroke-width="0.5" stroke-linejoin="miter"/>
<polygon points="508.00,191.55 505.70,187.39 510.30,187.39" fill="#000" stroke="#000" stroke-width="0.5" stroke-linejoin="miter"/>
<polygon points="538.90,221.50 536.60,217.34 541.20,217.34" fill="#000" stroke="#000" stroke-width="0.5" stroke-linejoin="miter"/>
<polygon points="446.50,176.84 444.12,181.13 448.88,181.13" fill="#fff" stroke="#000" stroke-width="0.9" stroke-linejoin="miter"/>
<polygon points="477.30,181.92 474.92,186.21 479.68,186.21" fill="#fff" stroke="#000" stroke-width="0.9" stroke-linejoin="miter"/>
<polygon points="508.00,192.07 505.62,196.36 510.38,196.36" fill="#fff" stroke="#000" stroke-width="0.9" stroke-linejoin="miter"/>
<polygon points="538.90,206.28 536.52,210.57 541.28,210.57" fill="#fff" stroke="#000" stroke-width="0.9" stroke-linejoin="miter"/>
<polygon points="446.50,181.99 444.12,177.70 448.88,177.70" fill="#fff" stroke="#000" stroke-width="0.9" stroke-linejoin="miter"/>
<polygon points="477.30,183.00 474.92,178.71 479.68,178.71" fill="#fff" stroke="#000" stroke-width="0.9" stroke-linejoin="miter"/>
<polygon points="508.00,188.08 505.62,183.79 510.38,183.79" fill="#fff" stroke="#000" stroke-width="0.9" stroke-linejoin="miter"/>
<polygon points="538.90,197.42 536.52,193.13 541.28,193.13" fill="#fff" stroke="#000" stroke-width="0.9" stroke-linejoin="miter"/>
<text x="507.20" y="184.80" font-size="10.5" text-anchor="middle" fill="#222" textLength="7.80" lengthAdjust="spacingAndGlyphs" style="stroke:none">**</text>
<text x="538.20" y="194.00" font-size="10.5" text-anchor="middle" fill="#222" textLength="7.80" lengthAdjust="spacingAndGlyphs" style="stroke:none">**</text>
<line x1="543.80" y1="196.00" x2="543.80" y2="207.50" stroke="#222" stroke-width="1.4" />
<line x1="446.50" y1="177.90" x2="446.50" y2="229.30" stroke="#000" stroke-width="1.2" />
<line x1="444.30" y1="229.30" x2="448.80" y2="229.30" stroke="#000" stroke-width="1" />
<line x1="446.50" y1="235.30" x2="446.50" y2="245.00" stroke="#000" stroke-width="1.2" />
<line x1="444.30" y1="235.30" x2="448.80" y2="235.30" stroke="#000" stroke-width="1" />
<line x1="445.90" y1="244.40" x2="539.40" y2="244.40" stroke="#000" stroke-width="1.2" />
<line x1="442.70" y1="178.40" x2="446.50" y2="178.40" stroke="#000" stroke-width="0.9" />
<text x="442.40" y="181.00" font-size="7.8" text-anchor="end" fill="#111" style="stroke:none">100</text>
<line x1="442.70" y1="188.55" x2="446.50" y2="188.55" stroke="#000" stroke-width="0.9" />
<text x="442.40" y="191.15" font-size="7.8" text-anchor="end" fill="#111" style="stroke:none">90</text>
<line x1="442.70" y1="198.70" x2="446.50" y2="198.70" stroke="#000" stroke-width="0.9" />
<text x="442.40" y="201.30" font-size="7.8" text-anchor="end" fill="#111" style="stroke:none">80</text>
<line x1="442.70" y1="208.85" x2="446.50" y2="208.85" stroke="#000" stroke-width="0.9" />
<text x="442.40" y="211.45" font-size="7.8" text-anchor="end" fill="#111" style="stroke:none">70</text>
<line x1="442.70" y1="219.00" x2="446.50" y2="219.00" stroke="#000" stroke-width="0.9" />
<text x="442.40" y="221.60" font-size="7.8" text-anchor="end" fill="#111" style="stroke:none">60</text>
<text x="442.40" y="231.60" font-size="7.8" text-anchor="end" fill="#111" style="stroke:none">50</text>
<text x="442.40" y="237.60" font-size="7.5" text-anchor="end" fill="#111" style="stroke:none">50</text>
<text x="442.40" y="246.90" font-size="7.5" text-anchor="end" fill="#111" style="stroke:none">0</text>
<line x1="442.70" y1="244.40" x2="446.50" y2="244.40" stroke="#000" stroke-width="0.9" />
<line x1="446.50" y1="244.40" x2="446.50" y2="247.50" stroke="#000" stroke-width="0.9" />
<text x="446.50" y="255.80" font-size="7.6" text-anchor="middle" fill="#111" style="stroke:none">0</text>
<line x1="477.30" y1="244.40" x2="477.30" y2="247.50" stroke="#000" stroke-width="0.9" />
<text x="477.30" y="255.80" font-size="7.6" text-anchor="middle" fill="#111" style="stroke:none">24</text>
<line x1="508.00" y1="244.40" x2="508.00" y2="247.50" stroke="#000" stroke-width="0.9" />
<text x="508.00" y="255.80" font-size="7.6" text-anchor="middle" fill="#111" style="stroke:none">48</text>
<line x1="538.90" y1="244.40" x2="538.90" y2="247.50" stroke="#000" stroke-width="0.9" />
<text x="538.90" y="255.80" font-size="7.6" text-anchor="middle" fill="#111" style="stroke:none">72</text>
<text x="492.10" y="265.30" font-size="7.6" text-anchor="middle" fill="#000" textLength="20.00" lengthAdjust="spacingAndGlyphs" >Hours</text>
<text x="431.40" y="209.00" font-size="7.7" text-anchor="middle" fill="#000" textLength="45.50" lengthAdjust="spacingAndGlyphs" transform="rotate(-90 431.40 209.00)" >Survival Rate</text>
<text x="431.8" y="172.3" font-size="7.0" textLength="11.2" lengthAdjust="spacingAndGlyphs" style="stroke:none" fill="#111">(%)</text>
</g>
<polygon points="356.30,273.43 353.92,277.72 358.68,277.72" fill="#fff" stroke="#000" stroke-width="0.8" stroke-linejoin="miter"/>
<text x="365.50" y="278.50" font-size="7.6" text-anchor="start" fill="#000" textLength="78.60" lengthAdjust="spacingAndGlyphs" >4T1.0-Control + DMSO</text>
<polygon points="356.30,282.93 353.92,287.22 358.68,287.22" fill="#000" stroke="#000" stroke-width="0.4" stroke-linejoin="miter"/>
<text x="365.50" y="288.00" font-size="7.6" text-anchor="start" fill="#000" textLength="66.30" lengthAdjust="spacingAndGlyphs" >4T1.0-Control + LF3</text>
<polygon points="460.20,278.57 457.82,274.28 462.58,274.28" fill="#fff" stroke="#000" stroke-width="0.8" stroke-linejoin="miter"/>
<text x="469.00" y="278.50" font-size="7.6" text-anchor="start" fill="#000" textLength="68.50" lengthAdjust="spacingAndGlyphs" >4T1.0-Nfe2 + DMSO</text>
<polygon points="460.20,288.07 457.82,283.78 462.58,283.78" fill="#000" stroke="#000" stroke-width="0.4" stroke-linejoin="miter"/>
<text x="469.00" y="288.00" font-size="7.6" text-anchor="start" fill="#000" textLength="57.00" lengthAdjust="spacingAndGlyphs" >4T1.0-Nfe2 + LF3</text>
</svg></body></html>
